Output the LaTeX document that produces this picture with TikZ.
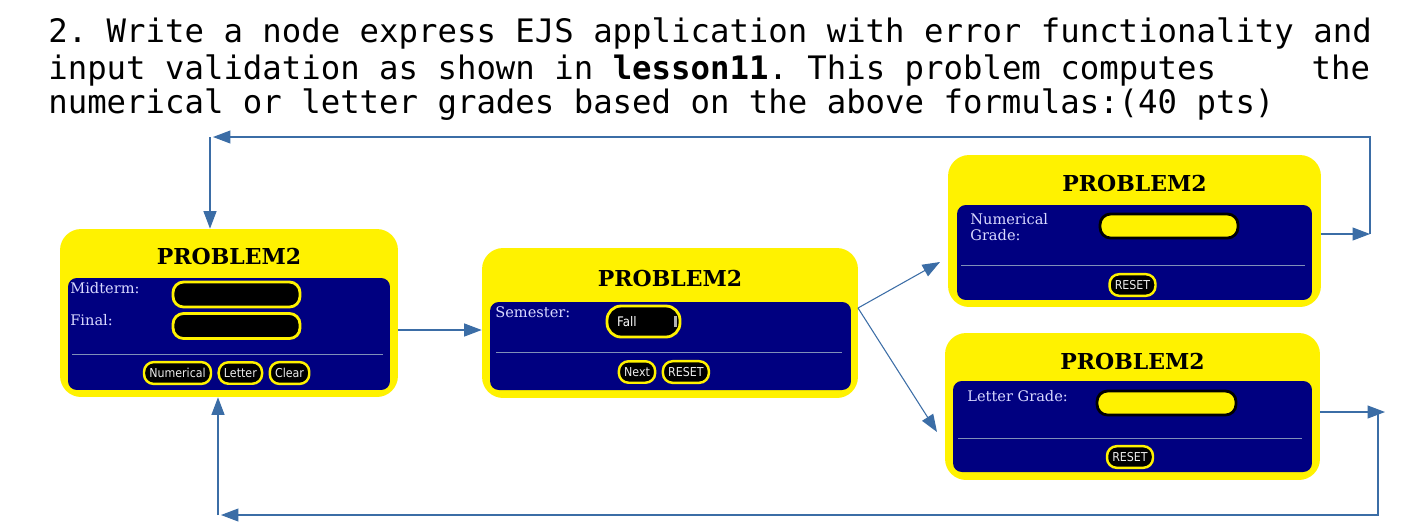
\documentclass[tikz,border=0pt]{standalone}
\usepackage{fontspec}
\setmonofont{DejaVu Sans Mono}
\newfontfamily\panelfont{DejaVu Serif}
\newfontfamily\btnfont{DejaVu Sans Condensed}
\usetikzlibrary{positioning, arrows.meta, calc}
\definecolor{panelblue}{HTML}{000080}
\definecolor{arrowblue}{HTML}{3B6DA6}
\definecolor{sepgray}{HTML}{7F8FB8}

\begin{document}
\begin{tikzpicture}[
    x=0.02cm, y=-0.02cm,
    >={Triangle[length=3.5mm, width=2.6mm]},
    % Styles
    outerbox/.style={fill=yellow, rounded corners=12pt, inner sep=0pt},
    innerbox/.style={fill=panelblue, rounded corners=5pt, inner sep=0pt},
    boxtitle/.style={font=\panelfont\bfseries\fontsize{12.5}{14}\selectfont, text=black},
    fieldlabel/.style={font=\panelfont\fontsize{8.3}{9.3}\selectfont, text=white!85!blue, anchor=north west, inner sep=0pt, align=left},
    darkfield/.style={draw=yellow, line width=1.6pt, fill=black, rounded corners=6pt, inner sep=0pt},
    litefield/.style={draw=black, line width=1.6pt, fill=yellow, rounded corners=6pt, inner sep=0pt},
    button/.style={draw=yellow, line width=1.4pt, fill=black, rounded corners=5.5pt, text=white!85!gray, font=\btnfont\fontsize{7}{8}\selectfont, inner xsep=3pt, inner ysep=3.5pt},
    separator/.style={draw=sepgray, line width=0.5pt},
    arrow/.style={->, draw=arrowblue, line width=0.6pt},
    line/.style={draw=arrowblue, line width=0.6pt}
]
    \useasboundingbox[fill=white] (0,0) rectangle (1416,525);

    % --- TASK TEXT ---
    \node[anchor=west, inner sep=0pt, font=\ttfamily\fontsize{18.4}{20}\selectfont] (line1) at (48,33)
        {2. Write a node express EJS application with error functionality and};
    \node[anchor=west, inner sep=0pt, font=\ttfamily\fontsize{18.4}{20}\selectfont] (line2) at (48,70)
        {\makebox[26.44cm][l]{input validation as shown in \textbf{lesson11}. This problem computes\hfill the}};
    \node[anchor=west, inner sep=0pt, font=\ttfamily\fontsize{18.4}{20}\selectfont] (line3) at (48,105)
        {numerical or letter grades based on the above formulas:(40 pts)};

    % --- INPUT FORM ---
    \node[outerbox, minimum width=6.76cm, minimum height=3.36cm] (formA) at (229,313) {};
    \node[innerbox, minimum width=6.44cm, minimum height=2.24cm] (innerA) at (229,334) {};
    \node[boxtitle] (titleA) at (229,256) {PROBLEM2};
    \node[fieldlabel] (midlabel) at (70,282) {Midterm:};
    \node[fieldlabel] (finlabel) at (70,314) {Final:};
    \node[darkfield, minimum width=2.54cm, minimum height=0.5cm] (midfield) at (236.5,294.5) {};
    \node[darkfield, minimum width=2.54cm, minimum height=0.5cm] (finfield) at (236.5,326) {};
    \draw[separator] (72,354) -- (383,354);
    \node[button] (numbtn) at (177.5,373) {Numerical};
    \node[button, right=3pt of numbtn] (letbtn) {Letter};
    \node[button, right=3pt of letbtn] (clrbtn) {Clear};

    % --- SEMESTER FORM ---
    \node[outerbox, minimum width=7.52cm, minimum height=3.0cm] (formB) at (670,323) {};
    \node[innerbox, minimum width=7.22cm, minimum height=1.76cm] (innerB) at (670.5,346) {};
    \node[boxtitle] (titleB) at (670,278) {PROBLEM2};
    \node[fieldlabel] (semlabel) at (495,306) {Semester:};
    \node[darkfield, minimum width=1.46cm, minimum height=0.62cm, rounded corners=8pt] (semfield) at (643.5,321.5) {};
    \node[font=\btnfont\fontsize{7.5}{8}\selectfont, text=white, anchor=west] (fall) at (611,321.5) {Fall};
    \fill[gray!60] (674,316) rectangle (677,327);
    \draw[separator] (496,352) -- (842,352);
    \node[button] (nextbtn) at (637,372) {Next};
    \node[button, right=3pt of nextbtn] (resetB) {RESET};

    % --- NUMERICAL RESULT ---
    \node[outerbox, minimum width=7.46cm, minimum height=3.04cm] (formC) at (1134.5,231) {};
    \node[innerbox, minimum width=7.1cm, minimum height=1.9cm] (innerC) at (1134.5,252.5) {};
    \node[boxtitle] (titleC) at (1134.5,183) {PROBLEM2};
    \node[fieldlabel] (numlabel) at (970,213) {Numerical\\Grade:};
    \node[litefield, minimum width=2.76cm, minimum height=0.48cm] (numfield) at (1169,226) {};
    \draw[separator] (961,265) -- (1305,265);
    \node[button] (resetC) at (1132.5,285) {RESET};

    % --- LETTER RESULT ---
    \node[outerbox, minimum width=7.5cm, minimum height=2.94cm] (formD) at (1132.5,406.5) {};
    \node[innerbox, minimum width=7.18cm, minimum height=1.82cm] (innerD) at (1132.5,426.5) {};
    \node[boxtitle] (titleD) at (1132.5,361) {PROBLEM2};
    \node[fieldlabel] (letlabel) at (967,390) {Letter Grade:};
    \node[litefield, minimum width=2.78cm, minimum height=0.48cm] (letfield) at (1166.5,403) {};
    \draw[separator] (958,438) -- (1302,438);
    \node[button] (resetD) at (1130,457) {RESET};

    % --- CONNECTIONS ---
    \coordinate (cornerC) at (1370,234);
    \coordinate (topR) at (1370,137);
    \coordinate (topL) at (210,137);
    \coordinate (cornerD) at (1385,412);
    \coordinate (botR) at (1378,515);
    \coordinate (botL) at (218,515);

    \draw[arrow] (formA.east |- 0,330) -- (formB.west |- 0,330);
    \draw[arrow] (858,308) -- (940,262);
    \draw[arrow] (858,308) -- (937,432);

    % back to input from numerical
    \draw[arrow] (formC.east |- cornerC) -- (cornerC);
    \draw[arrow] (cornerC) -- (topR) -- ($(topL)+(3,0)$);
    \draw[arrow] (topL) -- (topL |- formA.north);

    % back to input from letter
    \draw[arrow] (formD.east |- cornerD) -- (cornerD);
    \draw[arrow] (1378,412) -- (botR) -- ($(botL)+(3,0)$);
    \draw[arrow] (botL) -- (botL |- formA.south);

\end{tikzpicture}
\end{document}
